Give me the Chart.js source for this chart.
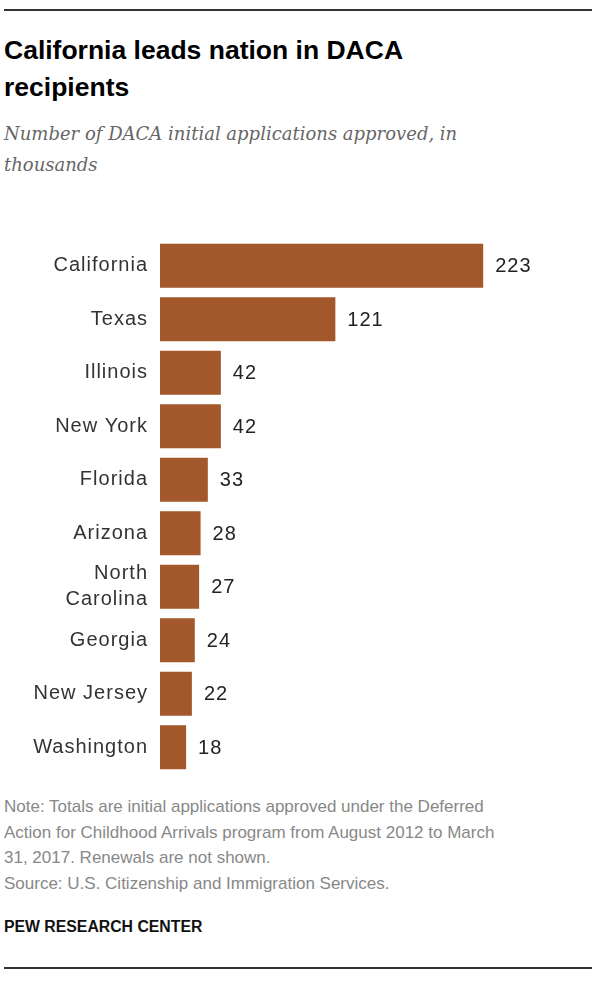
<!DOCTYPE html>
<html>
<head>
<meta charset="utf-8">
<script src="https://cdn.jsdelivr.net/npm/chart.js@4"></script>
<style>
  body { margin: 0; background: #fff; }
  #page { position: relative; width: 596px; height: 981px; overflow: hidden; }
  .rule { position: absolute; left: 4px; width: 588px; height: 2px; background: #333; }
  .txt { position: absolute; left: 4px; white-space: nowrap; }
  #title { top: 32px; font: bold 26.5px "Liberation Sans Narrow", "Liberation Sans", sans-serif; line-height: 37px; color: #000; }
  #subtitle { top: 118px; font: italic 18px "DejaVu Serif", serif; line-height: 31px; color: #666; }
  #note { top: 794px; font: 17px "Liberation Sans Narrow", "Liberation Sans", sans-serif; line-height: 25.5px; color: #888; }
  #pew { top: 918px; font: bold 15.8px "Liberation Sans Narrow", "Liberation Sans", sans-serif; color: #111; }
  #wrap { position: absolute; left: 0; top: 239px; width: 596px; height: 535px; }
</style>
</head>
<body>
<div id="page">
  <div class="rule" style="top:9px"></div>
  <div class="txt" id="title">California leads nation in DACA<br>recipients</div>
  <div class="txt" id="subtitle">Number of DACA initial applications approved, in<br>thousands</div>
  <div id="wrap"><canvas id="myChart"></canvas></div>
  <div class="txt" id="note">Note: Totals are initial applications approved under the Deferred<br>Action for Childhood Arrivals program from August 2012 to March<br>31, 2017. Renewals are not shown.<br>Source: U.S. Citizenship and Immigration Services.</div>
  <div class="txt" id="pew">PEW RESEARCH CENTER</div>
  <div class="rule" style="top:967px"></div>
</div>
<script>
var states = ['California', 'Texas', 'Illinois', 'New York', 'Florida', 'Arizona', ['North', 'Carolina'], 'Georgia', 'New Jersey', 'Washington'];
var approved = [223, 121, 42, 42, 33, 28, 27, 24, 22, 18];

// the source font is a bit spaced out; canvas resets on resize so set it before drawing
var spacing = {
    id: 'spacing',
    beforeDraw: function (chart) { chart.ctx.letterSpacing = '1px'; }
};

// value labels to the right of each bar
var valueLabels = {
    id: 'valueLabels',
    afterDatasetsDraw: function (chart) {
        var ctx = chart.ctx;
        var meta = chart.getDatasetMeta(0);
        ctx.save();
        ctx.font = '20px "Liberation Sans", Arial, sans-serif';
        ctx.fillStyle = '#222';
        ctx.textBaseline = 'middle';
        ctx.textAlign = 'left';
        meta.data.forEach(function (bar, i) {
            ctx.fillText(approved[i], bar.x + 12, bar.y + 1);
        });
        ctx.restore();
    }
};

var ctx = document.getElementById('myChart').getContext('2d');
var chart = new Chart(ctx, {
    type: 'bar',
    data: {
        labels: states,
        datasets: [{
            data: approved,
            backgroundColor: '#a2582a',
            barPercentage: 0.82,
            categoryPercentage: 1
        }]
    },
    options: {
        indexAxis: 'y',
        responsive: true,
        maintainAspectRatio: false,
        animation: false,
        layout: { padding: { left: 0, right: 36, top: 0, bottom: 0 } },
        plugins: {
            legend: { display: false },
            tooltip: { enabled: false }
        },
        scales: {
            x: {
                display: false,
                min: 0,
                max: 276
            },
            y: {
                afterFit: function (axis) {
                    axis.width = 160;
                    axis.paddingTop = 0;
                    axis.paddingBottom = 0;
                },
                grid: { display: false, drawTicks: false },
                border: { display: false },
                ticks: {
                    autoSkip: false,
                    color: '#333',
                    padding: 12,
                    font: { family: '"Liberation Sans", Arial, sans-serif', size: 20, lineHeight: 1.3 }
                }
            }
        }
    },
    plugins: [spacing, valueLabels]
});
</script>
</body>
</html>
